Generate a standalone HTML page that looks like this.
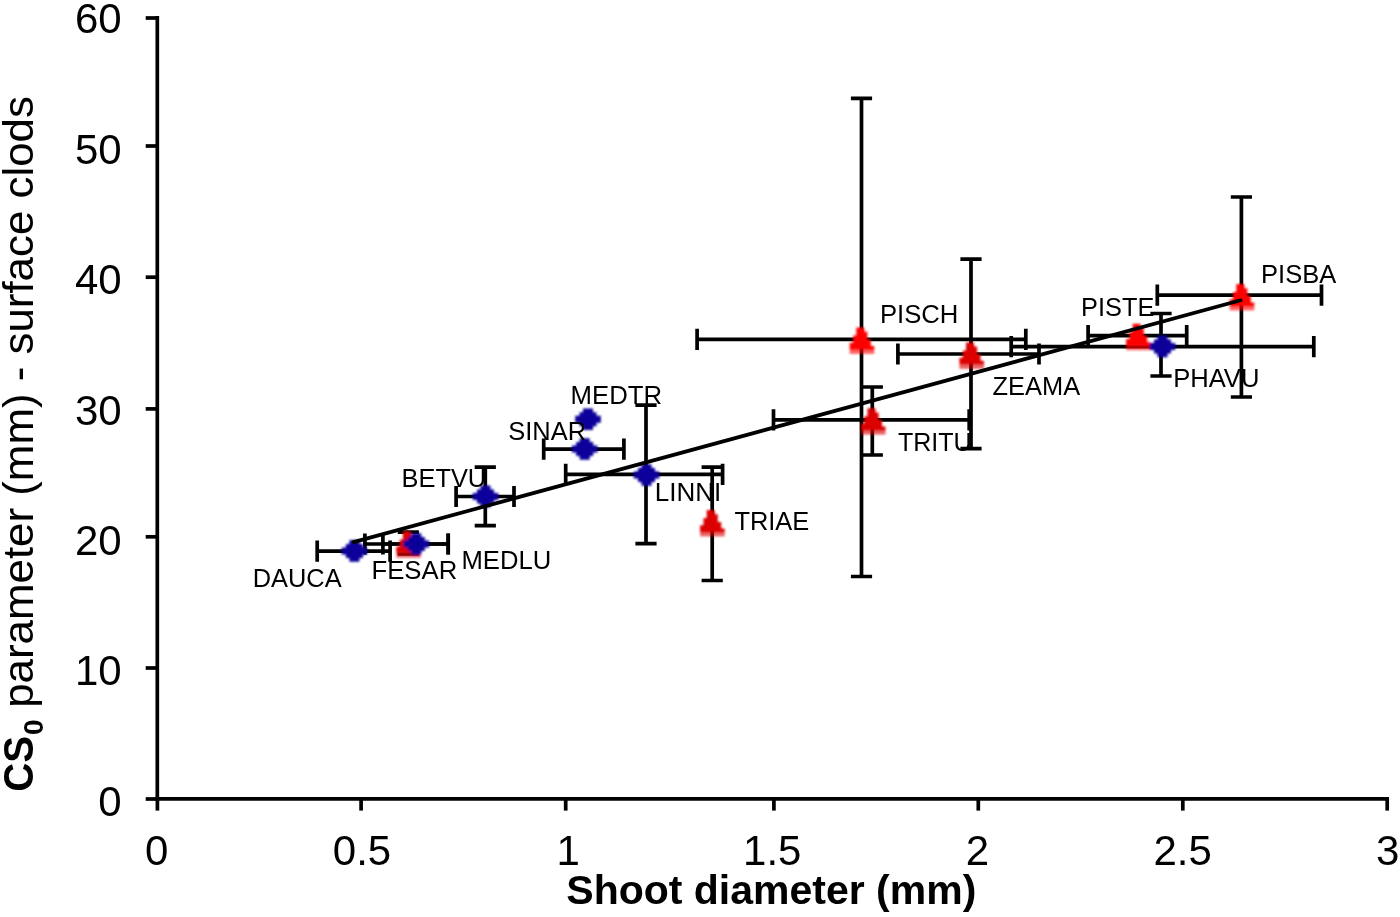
<!DOCTYPE html>
<html><head><meta charset="utf-8"><title>CS0 vs shoot diameter</title>
<style>
html,body{margin:0;padding:0;background:#fff;}
body{width:1400px;height:917px;overflow:hidden;}
svg{display:block;font-family:"Liberation Sans",Arial,Helvetica,sans-serif;fill:#000;}
</style></head><body>
<svg width="1400" height="917" viewBox="0 0 1400 917">
<defs><filter id="soft" x="-20%" y="-20%" width="140%" height="140%"><feGaussianBlur stdDeviation="0.9"/></filter></defs>
<rect width="1400" height="917" fill="#fff"/>
<g stroke="#000" stroke-width="3.7" fill="none" stroke-linecap="butt">
<path d="M157.3,16.1 V800.8"/>
<path d="M155.5,798.9 H1389"/>
<path d="M145.7,18 H157.3"/>
<path d="M145.7,146 H157.3"/>
<path d="M145.7,277.2 H157.3"/>
<path d="M145.7,408.9 H157.3"/>
<path d="M145.7,536.8 H157.3"/>
<path d="M145.7,668 H157.3"/>
<path d="M145.7,799 H157.3"/>
<path d="M157.4,798.9 V810.6"/>
<path d="M361.1,798.9 V810.6"/>
<path d="M565.7,798.9 V810.6"/>
<path d="M773.9,798.9 V810.6"/>
<path d="M978.3,798.9 V810.6"/>
<path d="M1182.8,798.9 V810.6"/>
<path d="M1387.2,798.9 V810.6"/>
</g>
<g stroke="#000" stroke-width="3.7" fill="none">
<path d="M317.2,551.2H390.1M317.2,540.6V561.8M390.1,540.6V561.8"/>
<path d="M364.9,544H448.2M364.9,533.4V554.6M448.2,533.4V554.6M408.3,532.1V554M397.7,532.1H418.9M397.7,554H418.9"/>
<path d="M382.9,544H448.2M382.9,533.4V554.6M448.2,533.4V554.6"/>
<path d="M456.1,496.5H514M456.1,485.9V507.1M514,485.9V507.1M485.3,467.2V525.7M474.7,467.2H495.9M474.7,525.7H495.9"/>
<path d="M543.7,449.2H623.9M543.7,438.6V459.8M623.9,438.6V459.8"/>
<path d="M565.7,474.3H722.6M565.7,463.7V484.9M722.6,463.7V484.9M646,405.2V543.6M635.4,405.2H656.6M635.4,543.6H656.6"/>
<path d="M712.2,467.2V580.5M701.6,467.2H722.8M701.6,580.5H722.8"/>
<path d="M697.1,339.4H1025.8M697.1,328.8V350M1025.8,328.8V350M861.5,98.3V576.5M850.9,98.3H872.1M850.9,576.5H872.1"/>
<path d="M773.5,419.9H969.2M773.5,409.3V430.5M969.2,409.3V430.5M872.3,387V455M861.7,387H882.9M861.7,455H882.9"/>
<path d="M897.9,354H1039M897.9,343.4V364.6M1039,343.4V364.6M971,259.2V448.7M960.4,259.2H981.6M960.4,448.7H981.6"/>
<path d="M1088.1,335.6H1186.7M1088.1,325V346.2M1186.7,325V346.2"/>
<path d="M1011.2,346.6H1313.8M1011.2,336V357.2M1313.8,336V357.2M1161,313.5V376M1150.4,313.5H1171.6M1150.4,376H1171.6"/>
<path d="M1157.3,295.2H1321.5M1157.3,284.6V305.8M1321.5,284.6V305.8M1241.4,197V397M1230.8,197H1252M1230.8,397H1252"/>
</g>
<g filter="url(#soft)">
<path fill="#08009a" d="M349.4,540.1L359.4,540.1L359.4,543.9L362.9,543.9L362.9,547.4L367.2,547.4L367.2,554.4L362.9,554.4L362.9,557.9L359.4,557.9L359.4,561.7L349.4,561.7L349.4,557.9L345.9,557.9L345.9,554.4L341.6,554.4L341.6,547.4L345.9,547.4L345.9,543.9L349.4,543.9Z"/>
<path fill="#dc0606" d="M402.9,531.3L410.9,531.3L410.9,535.5L414,535.5L414,543.2L417.4,543.2L417.4,549.7L420.9,549.7L420.9,553.5L396.3,553.5L396.3,546.6L399.7,546.6L399.7,539.4L402.9,539.4Z"/>
<path fill="#dc0606" fill-opacity="0.62" d="M396.3,553.5L420.9,553.5L420.9,557.7L396.3,557.7Z"/>
<path fill="#08009a" d="M411.3,533.2L421.3,533.2L421.3,537L424.8,537L424.8,540.5L429.1,540.5L429.1,547.5L424.8,547.5L424.8,551L421.3,551L421.3,554.8L411.3,554.8L411.3,551L407.8,551L407.8,547.5L403.5,547.5L403.5,540.5L407.8,540.5L407.8,537L411.3,537Z"/>
<path fill="#08009a" d="M480.5,485.6L490.5,485.6L490.5,489.4L494,489.4L494,492.9L498.3,492.9L498.3,499.9L494,499.9L494,503.4L490.5,503.4L490.5,507.2L480.5,507.2L480.5,503.4L477,503.4L477,499.9L472.7,499.9L472.7,492.9L477,492.9L477,489.4L480.5,489.4Z"/>
<path fill="#08009a" d="M579.7,438.2L589.7,438.2L589.7,442L593.2,442L593.2,445.5L597.5,445.5L597.5,452.5L593.2,452.5L593.2,456L589.7,456L589.7,459.8L579.7,459.8L579.7,456L576.2,456L576.2,452.5L571.9,452.5L571.9,445.5L576.2,445.5L576.2,442L579.7,442Z"/>
<path fill="#08009a" d="M583,408.4L593,408.4L593,412.2L596.5,412.2L596.5,415.7L600.8,415.7L600.8,422.7L596.5,422.7L596.5,426.2L593,426.2L593,430L583,430L583,426.2L579.5,426.2L579.5,422.7L575.2,422.7L575.2,415.7L579.5,415.7L579.5,412.2L583,412.2Z"/>
<path fill="#08009a" d="M641.5,464.2L651.5,464.2L651.5,468L655,468L655,471.5L659.3,471.5L659.3,478.5L655,478.5L655,482L651.5,482L651.5,485.8L641.5,485.8L641.5,482L638,482L638,478.5L633.7,478.5L633.7,471.5L638,471.5L638,468L641.5,468Z"/>
<path fill="#dc0606" d="M706.7,510L714.7,510L714.7,514.2L717.8,514.2L717.8,521.9L721.2,521.9L721.2,528.4L724.7,528.4L724.7,532.2L700.1,532.2L700.1,525.3L703.5,525.3L703.5,518.1L706.7,518.1Z"/>
<path fill="#dc0606" fill-opacity="0.62" d="M700.1,532.2L724.7,532.2L724.7,536.4L700.1,536.4Z"/>
<path fill="#fe0000" d="M856.3,327.5L864.3,327.5L864.3,331.7L867.4,331.7L867.4,339.4L870.8,339.4L870.8,345.9L874.3,345.9L874.3,349.7L849.7,349.7L849.7,342.8L853.1,342.8L853.1,335.6L856.3,335.6Z"/>
<path fill="#fe0000" fill-opacity="0.62" d="M849.7,349.7L874.3,349.7L874.3,353.9L849.7,353.9Z"/>
<path fill="#dc0606" d="M867.5,408.2L875.5,408.2L875.5,412.4L878.6,412.4L878.6,420.1L882,420.1L882,426.6L885.5,426.6L885.5,430.4L860.9,430.4L860.9,423.5L864.3,423.5L864.3,416.3L867.5,416.3Z"/>
<path fill="#dc0606" fill-opacity="0.62" d="M860.9,430.4L885.5,430.4L885.5,434.6L860.9,434.6Z"/>
<path fill="#dc0606" d="M966,342.4L974,342.4L974,346.6L977.1,346.6L977.1,354.3L980.5,354.3L980.5,360.8L984,360.8L984,364.6L959.4,364.6L959.4,357.7L962.8,357.7L962.8,350.5L966,350.5Z"/>
<path fill="#dc0606" fill-opacity="0.62" d="M959.4,364.6L984,364.6L984,368.8L959.4,368.8Z"/>
<path fill="#fe0000" d="M1132.7,323.8L1140.7,323.8L1140.7,328L1143.8,328L1143.8,335.7L1147.2,335.7L1147.2,342.2L1150.7,342.2L1150.7,346L1126.1,346L1126.1,339.1L1129.5,339.1L1129.5,331.9L1132.7,331.9Z"/>
<path fill="#fe0000" fill-opacity="0.62" d="M1126.1,346L1150.7,346L1150.7,350.2L1126.1,350.2Z"/>
<path fill="#08009a" d="M1157.5,335.6L1167.5,335.6L1167.5,339.4L1171,339.4L1171,342.9L1175.3,342.9L1175.3,349.9L1171,349.9L1171,353.4L1167.5,353.4L1167.5,357.2L1157.5,357.2L1157.5,353.4L1154,353.4L1154,349.9L1149.7,349.9L1149.7,342.9L1154,342.9L1154,339.4L1157.5,339.4Z"/>
<path fill="#fe0000" d="M1236.3,284L1244.3,284L1244.3,288.2L1247.4,288.2L1247.4,295.9L1250.8,295.9L1250.8,302.4L1254.3,302.4L1254.3,306.2L1229.7,306.2L1229.7,299.3L1233.1,299.3L1233.1,292.1L1236.3,292.1Z"/>
<path fill="#fe0000" fill-opacity="0.62" d="M1229.7,306.2L1254.3,306.2L1254.3,310.4L1229.7,310.4Z"/>
</g>
<path d="M353.6,542.1L1240.6,300.3" stroke="#000" stroke-width="3.7" stroke-linecap="round" fill="none"/>
<g font-size="25.5">
<text x="252.7" y="587.1" textLength="88.9" lengthAdjust="spacingAndGlyphs">DAUCA</text>
<text x="371.5" y="579.3" textLength="85.7" lengthAdjust="spacingAndGlyphs">FESAR</text>
<text x="461.5" y="568.6" textLength="89.8" lengthAdjust="spacingAndGlyphs">MEDLU</text>
<text x="401.5" y="487" textLength="84.7" lengthAdjust="spacingAndGlyphs">BETVU</text>
<text x="508.3" y="439.7" textLength="77.8" lengthAdjust="spacingAndGlyphs">SINAR</text>
<text x="570.5" y="404.3" textLength="91.6" lengthAdjust="spacingAndGlyphs">MEDTR</text>
<text x="654.7" y="501" textLength="66.5" lengthAdjust="spacingAndGlyphs">LINNI</text>
<text x="734.4" y="529.9" textLength="74.9" lengthAdjust="spacingAndGlyphs">TRIAE</text>
<text x="879.9" y="322.9" textLength="78.5" lengthAdjust="spacingAndGlyphs">PISCH</text>
<text x="897.9" y="451.4" textLength="73.8" lengthAdjust="spacingAndGlyphs">TRITU</text>
<text x="992.6" y="394.8" textLength="87.5" lengthAdjust="spacingAndGlyphs">ZEAMA</text>
<text x="1081.1" y="315.7" textLength="73.2" lengthAdjust="spacingAndGlyphs">PISTE</text>
<text x="1173.2" y="387.1" textLength="86.2" lengthAdjust="spacingAndGlyphs">PHAVU</text>
<text x="1261.1" y="283.4" textLength="75.2" lengthAdjust="spacingAndGlyphs">PISBA</text>
</g>
<g font-size="42" text-anchor="end">
<text x="121.6" y="33.4">60</text>
<text x="121.6" y="163.8">50</text>
<text x="121.6" y="294.2">40</text>
<text x="121.6" y="424.5">30</text>
<text x="121.6" y="554.9">20</text>
<text x="121.6" y="685.3">10</text>
<text x="121.6" y="815.7">0</text>
</g>
<g font-size="42" text-anchor="middle">
<text x="156.8" y="865">0</text>
<text x="362" y="865">0.5</text>
<text x="568.1" y="865">1</text>
<text x="772.3" y="865">1.5</text>
<text x="977.5" y="865">2</text>
<text x="1182.6" y="865">2.5</text>
<text x="1387.8" y="865">3</text>
</g>
<text x="566.3" y="904" font-size="41" font-weight="bold">Shoot diameter (mm)</text>
<g transform="translate(33.4,0) rotate(-90)">
<text x="-791.75" y="0" font-size="43" font-weight="bold" textLength="55.9" lengthAdjust="spacingAndGlyphs">CS</text>
<text x="-735" y="9.6" font-size="28" font-weight="bold">0</text>
<text x="-707.8" y="0" font-size="42" textLength="611.7" lengthAdjust="spacingAndGlyphs">parameter (mm) - surface clods</text>
</g>
</svg>
</body></html>
